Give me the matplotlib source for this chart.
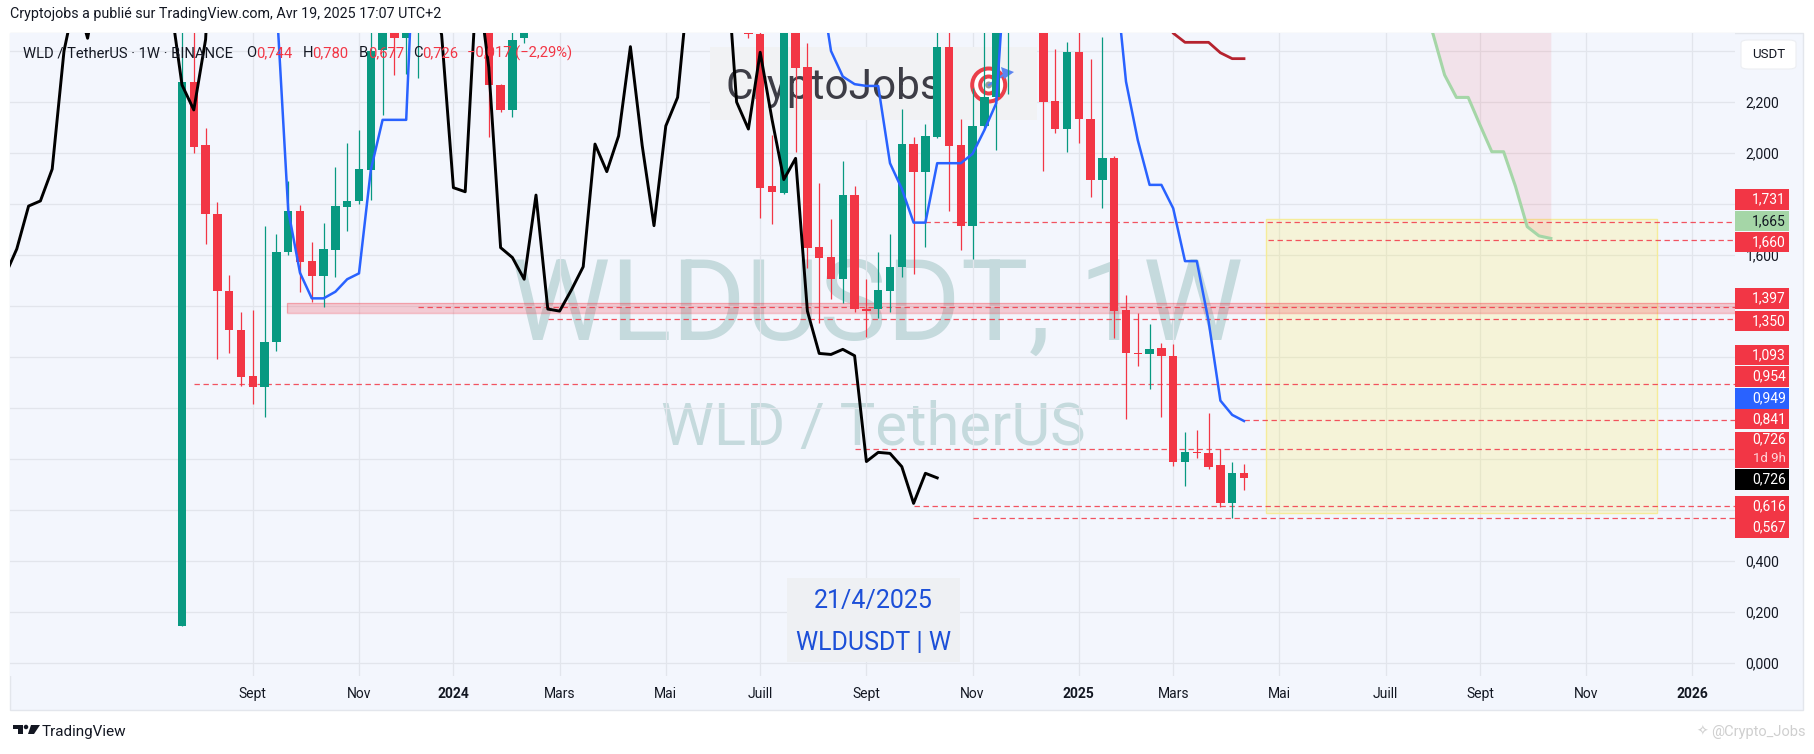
import numpy as np
import matplotlib.pyplot as plt
import pandas as pd
from matplotlib.patches import Rectangle, FancyBboxPatch, Ellipse, Polygon
from matplotlib.ticker import FuncFormatter

W, H = 1814, 754
plt.rcParams['font.family'] = ['Roboto', 'DejaVu Sans']

# ---------------- data : WLD / TetherUS weekly (Binance) ----------------
start = pd.Timestamp('2023-07-24')   # first weekly bar

# bars that sit above ~2.47 are outside the visible window
opens = [0.145, 2.28, 2.03, 1.76, 1.46, 1.306, 1.125, 1.084, 1.258, 1.61,
         1.773, 1.578, 1.519, 1.62, 1.788, 1.81, 1.933, 2.404, 2.62, 2.45,
         2.7, 3.1, 3.4, 3.3, 3.0, 2.7, 2.6, 2.267, 2.169, 2.45,
         3.3, 7.6, 7.8, 8.6, 9.5, 8.4, 7.3, 6.2, 5.5, 5.0,
         4.9, 5.0, 5.5, 5.3, 5.0, 4.6, 3.9, 3.3, 2.6, 2.465,
         1.871, 1.844, 2.7, 2.339, 1.63, 1.594, 1.505, 1.835, 1.388, 1.388,
         1.46, 1.554, 2.035, 1.927, 2.064, 2.417, 2.031, 1.715, 2.106, 2.218,
         2.7, 3.2, 3.3, 2.85, 2.203, 2.094, 2.395, 2.133, 1.896, 1.979,
         1.384, 1.214, 1.21, 1.234, 1.204, 0.79, 0.826, 0.822, 0.776, 0.626,
         0.744]
highs = [5.0, 2.59, 2.10, 1.806, 1.52, 1.376, 1.384, 1.714, 1.682, 1.89,
         1.797, 1.651, 1.727, 1.946, 2.038, 2.09, 2.64, 2.87, 2.75, 2.9,
         3.3, 3.6, 3.9, 3.5, 3.2, 2.9, 2.75, 2.27, 2.50, 3.5,
         7.9, 8.2, 9.0, 11.8, 10.0, 8.6, 7.5, 6.5, 5.9, 5.4,
         5.3, 5.8, 5.9, 5.5, 5.2, 4.8, 4.1, 3.4, 2.7, 2.55,
         2.07, 3.25, 2.75, 2.43, 1.884, 1.741, 1.969, 1.871, 1.505, 1.61,
         1.682, 2.173, 2.064, 2.114, 2.64, 2.5, 2.133, 2.253, 2.8, 2.9,
         3.4, 3.6, 3.4, 3.1, 2.406, 2.434, 2.79, 2.367, 2.453, 1.99,
         1.443, 1.374, 1.33, 1.254, 1.25, 0.905, 0.914, 0.979, 0.838, 0.787,
         0.780]
lows = [0.145, 2.00, 1.645, 1.194, 1.217, 1.086, 1.016, 0.966, 1.225, 1.60,
        1.456, 1.417, 1.395, 1.512, 1.694, 1.80, 1.816, 2.149, 2.306, 2.31,
        2.295, 2.9, 3.0, 2.8, 2.5, 2.5, 2.064, 2.16, 2.142, 2.43,
        3.2, 6.8, 7.4, 8.0, 8.0, 7.0, 5.8, 5.2, 4.8, 4.5,
        4.5, 4.8, 5.0, 4.8, 4.5, 3.8, 3.2, 2.5, 2.45, 1.744,
        1.72, 1.84, 2.005, 1.548, 1.335, 1.426, 1.411, 1.378, 1.28, 1.354,
        1.378, 1.515, 1.525, 1.633, 2.06, 1.774, 1.621, 1.583, 2.09, 2.01,
        2.23, 2.9, 2.7, 1.93, 2.08, 2.005, 2.04, 1.829, 1.786, 1.276,
        0.956, 1.166, 1.073, 0.966, 0.774, 0.695, 0.805, 0.76, 0.613, 0.567,
        0.677]
closes = [2.28, 2.025, 1.76, 1.46, 1.304, 1.123, 1.084, 1.259, 1.61, 1.773,
          1.574, 1.519, 1.624, 1.792, 1.812, 1.937, 2.40, 2.62, 2.45, 2.7,
          3.1, 3.4, 3.3, 3.0, 2.7, 2.6, 2.267, 2.169, 2.445, 3.3,
          7.6, 7.8, 8.6, 9.5, 8.4, 7.3, 6.2, 5.5, 5.0, 4.9,
          5.0, 5.5, 5.3, 5.0, 4.6, 3.9, 3.3, 2.6, 2.465, 1.864,
          1.848, 2.7, 2.335, 1.629, 1.59, 1.505, 1.835, 1.388, 1.38, 1.463,
          1.554, 2.035, 1.927, 2.067, 2.417, 2.029, 1.715, 2.106, 2.218, 2.7,
          3.2, 3.3, 2.85, 2.20, 2.094, 2.395, 2.132, 1.896, 1.979, 1.38,
          1.214, 1.21, 1.23, 1.205, 0.79, 0.826, 0.822, 0.77, 0.626, 0.744,
          0.726]

lag_shift = 26   # black lagging line = close drawn 26 bars back

# blue conversion line (bar index, value)
conv_idx = list(range(8, 21)) + list(range(54, 71)) + list(range(79, 91))
conv_val = [2.60, 1.776, 1.53, 1.43, 1.43, 1.456, 1.505, 1.528, 1.933, 2.13, 2.13, 2.13, 3.2,
            2.70, 2.40, 2.30, 2.27, 2.263, 2.263, 1.96, 1.86, 1.727, 1.727, 1.96, 1.96, 1.96,
            1.997, 2.09, 2.195, 2.9,
            2.74, 2.28, 2.05, 1.875, 1.875, 1.783, 1.576, 1.576, 1.34, 1.029, 0.973, 0.949]
# dark red base line
base_idx = list(range(83, 91))
base_val = [2.55, 2.47, 2.434, 2.434, 2.434, 2.393, 2.37, 2.37]
# green leading span (projected forward)
span_idx = list(range(105, 117))
span_val = [2.6, 2.47, 2.306, 2.218, 2.218, 2.11, 2.005, 2.005, 1.87, 1.711, 1.675, 1.665]

# horizontal rays drawn by the author
levels = [1.731, 1.660, 1.397, 1.350, 1.093, 0.954, 0.841, 0.616, 0.567]
level_from = [63, 92, 20, 31, 1, 90, 57, 62, 67]

month_starts = ['2023-09-01', '2023-11-01', '2024-01-01', '2024-03-01', '2024-05-01',
                '2024-07-01', '2024-09-01', '2024-11-01', '2025-01-01', '2025-03-01',
                '2025-05-01', '2025-07-01', '2025-09-01', '2025-11-01', '2026-01-01']
month_names = ['Sept', 'Nov', '2024', 'Mars', 'Mai', 'Juill', 'Sept', 'Nov', '2025',
               'Mars', 'Mai', 'Juill', 'Sept', 'Nov', '2026']

# price-scale labels on the right (text, box colour, text colour)
tags = [('1,731', '#f23645', 'white'), ('1,665', '#a5d6a7', '#131722'),
        ('1,660', '#f23645', 'white'), ('1,397', '#f23645', 'white'),
        ('1,350', '#f23645', 'white'), ('1,093', '#f23645', 'white'),
        ('0,954', '#f23645', 'white'), ('0,949', '#2962ff', 'white'),
        ('0,841', '#f23645', 'white'), ('0,726', '#f23645', 'white'),
        ('0,726', '#000000', 'white'), ('0,616', '#f23645', 'white'),
        ('0,567', '#f23645', 'white')]
tag_y = [199.3, 221, 242, 298.3, 321, 355, 376.7, 398.3, 419, 440, 479.3, 506.7, 527.7]

GREEN, RED = '#089981', '#f23645'
BG = '#f3f6fd'


def fx(x):
    return x / W


def fy(y):
    return 1 - y / H


def price_label(v, p):
    # grid labels hidden behind the coloured price tags are left blank
    if round(v, 1) in (0.6, 0.8, 1.0, 1.2, 1.4, 1.8, 2.4):
        return ''
    return f'{v:.3f}'.replace('.', ',')


fig = plt.figure(figsize=(W / 100, H / 100), dpi=100)
fig.patch.set_facecolor('white')
fig.add_artist(Rectangle((fx(10), fy(710)), fx(1803) - fx(10), fy(33) - fy(710),
                         transform=fig.transFigure, facecolor=BG, edgecolor='#e3e6ec',
                         lw=1, zorder=-10))

ax = fig.add_axes([fx(10), fy(676), fx(1735) - fx(10), fy(33) - fy(676)])
ax.set_facecolor(BG)
ax.set_xlim(-14.576, 131.61)
ax.set_ylim(-13 / 255, 630 / 255)
for s in ax.spines.values():
    s.set_visible(False)

# time ticks : first weekly bar of each month
tick_pos = [int(np.ceil((pd.Timestamp(m) - start).days / 7)) for m in month_starts]
ax.set_xticks(tick_pos)
ax.set_xticklabels(month_names)
for lab in ax.get_xticklabels():
    if lab.get_text().isdigit():
        lab.set_fontweight('bold')
ax.set_yticks(np.arange(0, 2.41, 0.2))
ax.yaxis.set_major_formatter(FuncFormatter(price_label))
ax.yaxis.tick_right()
ax.tick_params(axis='both', length=0, labelsize=10, labelcolor='#131722')
ax.tick_params(axis='x', pad=8)
ax.tick_params(axis='y', pad=7.5)
ax.grid(True, color='#e2e5ec', lw=0.9)
ax.set_axisbelow(True)

# watermarks
wm = '#c5dadd'
ax.text(fx(876.5), fy(340), 'WLDUSDT, 1W', transform=fig.transFigure, ha='center',
        va='baseline', fontsize=81.5, color=wm, zorder=0.5)
ax.text(fx(873.5), fy(445), 'WLD / TetherUS', transform=fig.transFigure, ha='center',
        va='baseline', fontsize=43, color=wm, zorder=0.5)

# CryptoJobs logo box
ax.add_patch(Rectangle((fx(710), fy(120)), fx(1037) - fx(710), fy(47) - fy(120),
                       transform=fig.transFigure, facecolor='#f1f2f4', edgecolor='none',
                       zorder=0.6, clip_on=False))
ax.text(fx(725), fy(98.5), 'CryptoJobs', transform=fig.transFigure, ha='left',
        va='baseline', fontsize=30.5, color='#3d3d46', zorder=0.7)
for r, c in [(18.5, '#ea3f4a'), (14.5, 'white'), (10.5, '#ea3f4a'), (6.5, 'white'), (3.5, '#9a9a9a')]:
    ax.add_patch(Ellipse((fx(988.7), fy(85)), 2 * r / W, 2 * r / H, transform=fig.transFigure,
                         facecolor=c, edgecolor='none', zorder=0.7, clip_on=False))
ax.plot([fx(989), fx(1006)], [fy(85), fy(73)], transform=fig.transFigure, color='#5b84f0',
        lw=1.6, zorder=0.75, clip_on=False)
ax.add_patch(Polygon([(fx(1001), fy(67)), (fx(1014), fy(72)), (fx(1004), fy(79))],
                     transform=fig.transFigure, facecolor='#5b84f0', edgecolor='none',
                     zorder=0.75, clip_on=False))

x_all = np.arange(len(closes))
o = np.array(opens)
c = np.array(closes)
hi = np.array(highs)
lo = np.array(lows)

# zone boxes
ax.add_patch(Rectangle((91.9, 0.587), 125.0 - 91.9, 1.74 - 0.587, facecolor='#ffeb3b',
                       alpha=0.19, edgecolor='none', zorder=1.5))
ax.add_patch(Rectangle((91.9, 0.587), 125.0 - 91.9, 1.74 - 0.587, facecolor='none',
                       edgecolor='#f5ec9a', lw=1, zorder=1.5))
ax.add_patch(Rectangle((8.9, 1.373), 131.61 - 8.9, 0.04, facecolor=RED, alpha=0.22,
                       edgecolor='none', zorder=1.5))
ax.add_patch(Rectangle((8.9, 1.373), 131.61 - 8.9, 0.04, facecolor='none',
                       edgecolor=(0.95, 0.21, 0.27, 0.3), lw=1, zorder=1.5))

# cloud
ax.fill_between(span_idx, span_val, 3.0, color=RED, alpha=0.1, lw=0, zorder=1.6)

# rays
for lv, x0 in zip(levels, level_from):
    ax.plot([x0, 131.61], [lv, lv], color=RED, alpha=0.85, lw=0.9,
            dashes=(4.3, 2.9), zorder=2)

# candles
up = c >= o
col = np.where(up, GREEN, RED)
ax.vlines(x_all, lo, hi, colors=col, lw=0.9, zorder=3)
body = np.maximum(np.abs(c - o), 0.005)
ax.bar(x_all, body, bottom=np.minimum(o, c), width=0.72, color=col, lw=0, zorder=3.1)

# indicator lines
ax.plot(x_all - lag_shift, c, color='black', lw=2.1, zorder=4)
ax.plot(conv_idx, conv_val, color='#2962ff', lw=1.8, zorder=4)
ax.plot(base_idx, base_val, color='#b5222e', lw=2.0, zorder=4)
ax.plot(span_idx, span_val, color='#a5d6a7', lw=2.2, zorder=4)

# header
fig.text(fx(10), fy(14), 'Cryptojobs a publié sur TradingView.com, Avr 19, 2025 17:07 UTC+2',
         ha='left', va='center', fontsize=10.3, color='#131722')
parts = [(23, 'WLD / TetherUS · 1W · BINANCE', '#131722'), (246, 'O', '#131722'),
         (256, '0,744', RED), (302.5, 'H', '#131722'), (312.4, '0,780', RED),
         (358.6, 'B', '#131722'), (367.7, '0,677', RED), (413.2, 'C', '#131722'),
         (422.3, '0,726', RED), (466.6, '−0,017 (−2,29%)', RED)]
for x, s, cc in parts:
    fig.text(fx(x), fy(53), s, ha='left', va='center', fontsize=10.6, color=cc, zorder=6)

# date / symbol box
fig.add_artist(Rectangle((fx(787), fy(662)), fx(960) - fx(787), fy(578) - fy(662),
                         transform=fig.transFigure, facecolor='#eef0f3', edgecolor='none',
                         zorder=0.2))
fig.text(fx(873.5), fy(608), '21/4/2025', ha='center', va='baseline', fontsize=18,
         color='#1c4fd8', zorder=6)
fig.text(fx(873.5), fy(650), 'WLDUSDT | W', ha='center', va='baseline', fontsize=18,
         color='#1c4fd8', zorder=6)

# price scale tags
for (s, bc, tc), yc in zip(tags, tag_y):
    if s == '0,726' and bc == RED:
        top, bot = 431.7, 468.3
        fig.text(fx(1786), fy(458.5), '1d 9h', ha='right', va='center', fontsize=9.5,
                 color='#ffd6da', zorder=8)
        ty = 439.5
    else:
        top, bot = yc - 10.3, yc + 10.3
        ty = yc
    fig.add_artist(Rectangle((fx(1735), fy(bot)), fx(1789) - fx(1735), fy(top) - fy(bot),
                             transform=fig.transFigure, facecolor=bc, edgecolor='none',
                             zorder=7))
    fig.text(fx(1786), fy(ty), s, ha='right', va='center', fontsize=10, color=tc, zorder=8)

# USDT button
fig.add_artist(FancyBboxPatch((fx(1741), fy(69)), fx(1796) - fx(1741), fy(40) - fy(69),
                              boxstyle='round,pad=0,rounding_size=0.004',
                              transform=fig.transFigure, facecolor='white',
                              edgecolor='#eceef2', lw=0.8, zorder=7))
fig.text(fx(1768.5), fy(55), 'USDT', ha='center', va='center', fontsize=9.5,
         color='#131722', zorder=8)

# footer
fig.add_artist(Polygon([(fx(13), fy(725)), (fx(23), fy(725)), (fx(23), fy(734)),
                        (fx(18), fy(734)), (fx(18), fy(729)), (fx(13), fy(729))],
                       transform=fig.transFigure, facecolor='#131722', edgecolor='none'))
fig.add_artist(Ellipse((fx(26), fy(727)), 4.5 / W, 4.5 / H, transform=fig.transFigure,
                       facecolor='#131722', edgecolor='none'))
fig.add_artist(Polygon([(fx(31), fy(725)), (fx(40), fy(725)), (fx(34), fy(734)),
                        (fx(28), fy(734))], transform=fig.transFigure,
                       facecolor='#131722', edgecolor='none'))
fig.text(fx(42), fy(732), 'TradingView', ha='left', va='center', fontsize=11,
         color='#131722')
fig.text(fx(1806), fy(732), '@Crypto_Jobs', ha='right', va='center', fontsize=10.5,
         color='#cfcfcf')
fig.text(fx(1702), fy(732), '✧', ha='center', va='center', fontsize=10,
         color='#cfcfcf', family=['DejaVu Sans'])

fig.savefig('out.png', dpi=100, facecolor='white')
